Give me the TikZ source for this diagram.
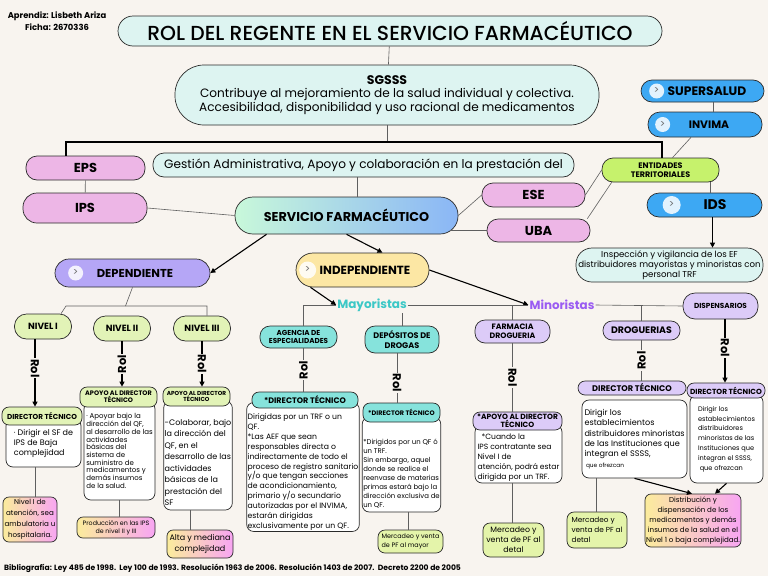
\documentclass[tikz,border=0pt]{standalone}
\usepackage{fontspec}
\setmainfont{Poppins}
\IfFontExistsTF{Poppins Medium}{\newfontfamily\titlef{Poppins Medium}}{\newcommand\titlef{\bfseries}}
\usepackage{tikz}
\usetikzlibrary{arrows.meta,positioning,calc}
\definecolor{bg}{HTML}{F8F4EF}
\definecolor{ink}{HTML}{2A2A2A}
\definecolor{aqua}{HTML}{DDF4F1}
\definecolor{rosa}{HTML}{EDB6E6}
\definecolor{lima}{HTML}{C6F26C}
\definecolor{azul}{HTML}{3DA8F3}
\definecolor{lila}{HTML}{B5A6F6}
\definecolor{amar}{HTML}{FCE7A4}
\definecolor{verde}{HTML}{E2F3B7}
\definecolor{turq}{HTML}{86E3DC}
\definecolor{lilac}{HTML}{DCCBF8}
\definecolor{cmerc}{HTML}{E4F4AA}
\definecolor{gamar}{HTML}{FBEC9C}
\definecolor{gpink}{HTML}{F8A5F3}
\definecolor{menta}{HTML}{C8F8DA}
\definecolor{cielo}{HTML}{8AB6F6}
\definecolor{maytx}{HTML}{3CC8C6}
\definecolor{mintx}{HTML}{9A5CF2}
\newcommand\fsz[2]{\fontsize{#1}{#2}\selectfont}
\newcommand\topgap[1]{\rule{0pt}{#1}}
\tikzset{
  >={Triangle[length=5pt,width=5pt]},
  box/.style={draw=ink,line width=0.7pt,rounded corners=#1,align=center,inner sep=1pt},
  box/.default=8pt,
  aq/.style={box=#1,fill=aqua},
  aq/.default=10pt,
  pk/.style={box=11pt,fill=rosa,font=\bfseries\fsz{13}{15}},
  bl/.style={box=11pt,fill=azul,font=\bfseries\fsz{12.3}{14}},
  chev/.style={circle,fill=white,fill opacity=0.85,text opacity=1,inner sep=0pt,minimum size=15pt,text=ink!70,font=\fsz{10}{10}},
  lvl/.style={box=12pt,fill=verde,minimum width=57pt,minimum height=25pt,font=\bfseries\fsz{9}{10}},
  hd/.style={box=7pt},
  body/.style={box=7pt,fill=white,align=left},
  grad/.style={box=6pt,left color=gamar,right color=gpink},
  merc/.style={box=7pt,fill=cmerc},
  rol/.style={fill=bg,inner sep=1pt,font=\bfseries\fsz{11.5}{12}},
  lk/.style={draw=ink!75,line width=0.6pt},
  ln/.style={draw=black,line width=1.1pt},
  arr/.style={->,ln},
}
\begin{document}
\begin{tikzpicture}[x=1pt,y=-1pt]
\fill[bg] (0,0) rectangle (768,576);
\node[align=center,font=\bfseries\fsz{8.4}{11.7}] (autor) at (57,21) {Aprendiz: Lisbeth Ariza\\Ficha: 2670336};
\node[aq=15pt,minimum width=544pt,minimum height=30pt,font=\titlef\fsz{20.3}{22}] (title) at (390,31) {ROL DEL REGENTE EN EL SERVICIO FARMACÉUTICO};
\node[aq=29pt,minimum width=424pt,minimum height=60pt,font=\fsz{12.1}{13.5}] (sgsss) at (387,95) {{\bfseries\fsz{12.5}{14}SGSSS}\\Contribuye al mejoramiento de la salud individual y colectiva.\\Accesibilidad, disponibilidad y uso racional de medicamentos};
\node[aq=11pt,minimum width=421pt,minimum height=24pt,font=\fsz{12.1}{14}] (gest) at (363.5,165) {Gestión Administrativa, Apoyo y colaboración en la prestación del};
\node[pk,minimum width=119pt,minimum height=24pt] (eps) at (85.5,168) {EPS};
\node[pk,box=14pt,minimum width=124pt,minimum height=30pt] (ips) at (85,208) {IPS};
\node[pk,minimum width=103pt,minimum height=24pt] (ese) at (533.5,195) {ESE};
\node[pk,minimum width=103pt,minimum height=23pt] (uba) at (538.5,230.5) {UBA};
\node[box=18pt,left color=menta,right color=cielo,minimum width=223pt,minimum height=37pt,font=\bfseries\fsz{12.8}{14}] (sf) at (346.5,215.5) {SERVICIO FARMACÉUTICO};
\node[box=11pt,fill=lima,minimum width=117pt,minimum height=24pt,font=\bfseries\fsz{8}{9.5}] (ent) at (660.5,170) {ENTIDADES\\TERRITORIALES};
\node[bl,minimum width=123pt,minimum height=22pt] (sup) at (702.5,91) {\hspace*{9pt}SUPERSALUD};
\node[bl,box=12pt,minimum width=114pt,minimum height=25pt,font=\bfseries\fsz{10.8}{13}] (inv) at (705,124.5) {\hspace*{8pt}INVIMA};
\node[bl,box=12pt,minimum width=115pt,minimum height=24pt,font=\bfseries\fsz{14}{15}] (ids) at (704.5,205) {\hspace*{21pt}IDS};
\node[aq=16pt,minimum width=187pt,minimum height=34pt,font=\fsz{8.6}{9.8}] (insp) at (669.5,265) {Inspección y vigilancia de los EF\\distribuidores mayoristas y minoristas con\\personal TRF};
\node[box=14pt,fill=lila,minimum width=155pt,minimum height=28pt,font=\bfseries\fsz{11.5}{13}] (dep) at (132.5,273) {\hspace*{5pt}DEPENDIENTE};
\node[box=17pt,fill=amar,minimum width=133pt,minimum height=34pt,font=\bfseries\fsz{11.8}{13}] (ind) at (362.5,270) {\hspace*{5pt}INDEPENDIENTE};
\node[chev] (supc) at ([xshift=16pt]sup.west) {>};
\node[chev] (invc) at ([xshift=15pt]inv.west) {>};
\node[chev,minimum size=18pt] (idsc) at ([xshift=25pt]ids.west) {>};
\node[chev] (depc) at ([xshift=21pt]dep.west) {>};
\node[chev,minimum size=17pt] (indc) at ([xshift=12pt]ind.west) {>};
\node[inner sep=1pt,text=maytx,font=\bfseries\fsz{12}{12}] (may) at (372,305) {Mayoristas};
\node[inner sep=1pt,text=mintx,font=\bfseries\fsz{11.9}{12}] (min) at (562,305) {Minoristas};
\node[lvl] (n1) at (43,326.5) {NIVEL I};
\node[lvl] (n2) at (122,328.5) {NIVEL II};
\node[lvl] (n3) at (202,328.5) {NIVEL III};
\node[body,minimum width=75pt,minimum height=48pt,font=\fsz{8}{10}] (dt1b) at (43.5,443) {· Dirigir el SF de\\IPS de Baja\\complejidad};
\node[hd,fill=verde,minimum width=80pt,minimum height=18pt,font=\bfseries\fsz{7.2}{8}] (dt1h) at (42,416) {DIRECTOR TÉCNICO};
\node[grad,minimum width=54pt,minimum height=45pt,font=\fsz{7.1}{11}] (niv1) at (30,519.5) {Nivel I de\\atención, sea\\ambulatoria u\\hospitalaria.};
\node[body,minimum width=71pt,minimum height=98pt,font=\fsz{7}{7.7}] (ap2b) at (119.5,451) {· Apoyar bajo la\\dirección del QF,\\al desarrollo de las\\actividades\\básicas del\\sistema de\\suministro de\\medicamentos y\\demás insumos\\de la salud.};
\node[hd,fill=verde,minimum width=77pt,minimum height=20pt,font=\bfseries\fsz{6.5}{7.3}] (ap2h) at (118.5,397) {APOYO AL DIRECTOR\\TÉCNICO};
\node[grad,minimum width=78pt,minimum height=21pt,font=\fsz{6.3}{8}] (prod) at (116,527.5) {Producción en las IPS\\de nivel II y III};
\node[body,minimum width=64pt,minimum height=109pt,font=\fsz{8}{11.5}] (ap3b) at (198,455.5) {\topgap{20pt}-Colaborar, bajo\\la dirección del\\QF, en el\\desarrollo de las\\actividades\\básicas de la\\prestación del\\SF};
\node[hd,fill=verde,minimum width=67pt,minimum height=19pt,font=\bfseries\fsz{5.8}{6.8}] (ap3h) at (196.5,396.5) {APOYO AL DIRECTOR\\TÉCNICO};
\node[grad,minimum width=66pt,minimum height=28pt,font=\fsz{8}{11}] (alta) at (200,544) {Alta y mediana\\complejidad};
\node[box=10pt,fill=turq,minimum width=77pt,minimum height=22pt,font=\bfseries\fsz{7.2}{8.8}] (age) at (298.5,337) {AGENCIA DE\\ESPECIALIDADES};
\node[body,minimum width=112pt,minimum height=126pt,font=\fsz{7.7}{9.9}] (dt4b) at (303,467) {\topgap{16pt}Dirigidas por un TRF o un\\QF.\\*Las AEF que sean\\responsables directa o\\indirectamente de todo el\\proceso de registro sanitario\\y/o que tengan secciones\\de acondicionamiento,\\primario y/o secundario\\autorizadas por el INVIMA,\\estarán dirigidas\\exclusivamente por un QF.};
\node[hd,fill=turq,minimum width=106pt,minimum height=16pt,font=\bfseries\fsz{8}{9}] (dt4h) at (305,400) {*DIRECTOR TÉCNICO};
\node[box=10pt,fill=turq,minimum width=74pt,minimum height=27pt,font=\bfseries\fsz{8.1}{10.5}] (depo) at (402,339.5) {DEPÓSITOS DE\\DROGAS};
\node[body,minimum width=73pt,minimum height=95pt,font=\fsz{6.9}{9}] (dt5b) at (401.5,464.5) {\topgap{24pt}*Dirigidos por un QF ó\\un TRF.\\Sin embargo, aquel\\donde se realice el\\reenvase de materias\\primas estará bajo la\\dirección exclusiva de\\un QF.};
\node[hd,fill=turq,minimum width=77pt,minimum height=19pt,font=\bfseries\fsz{6.5}{7.5}] (dt5h) at (401.5,412.5) {*DIRECTOR TÉCNICO};
\node[merc,align=left,minimum width=65pt,minimum height=23pt,font=\fsz{6.4}{9}] (mer5) at (410.5,541.5) {Mercadeo y venta\\de PF al mayor};
\node[box=10pt,fill=lilac,minimum width=75pt,minimum height=23pt,font=\bfseries\fsz{7.8}{9.2}] (far) at (512.5,331.5) {FARMACIA\\DROGUERIA};
\node[body,minimum width=87pt,minimum height=58pt,font=\fsz{7.6}{10}] (ap6b) at (518.5,454) {\topgap{13pt}\hspace*{4pt}*Cuando la\\IPS contratante sea\\Nivel I de\\atención, podrá estar\\dirigida por un TRF.};
\node[hd,fill=lilac,minimum width=89pt,minimum height=18pt,font=\bfseries\fsz{7.5}{8.3}] (ap6h) at (517.5,421) {*APOYO AL DIRECTOR\\TÉCNICO};
\node[merc,minimum width=61pt,minimum height=34pt,font=\fsz{7.8}{10}] (mer6) at (513.5,540) {Mercadeo y\\venta de PF al\\detal};
\node[box=9pt,fill=lilac,minimum width=77pt,minimum height=19pt,font=\bfseries\fsz{9.4}{10}] (drog) at (641.5,330.5) {DROGUERIAS};
\node[body,minimum width=105pt,minimum height=78pt,font=\fsz{8.1}{10.4}] (dt7b) at (634.5,439) {Dirigir los\\establecimientos\\distribuidores minoristas\\de las Instituciones que\\integran el SSSS,\\{\fsz{5.8}{10.4}\ que ofrezcan}};
\node[hd,fill=lilac,minimum width=108pt,minimum height=14pt,font=\bfseries\fsz{8.2}{9}] (dt7h) at (632,388) {DIRECTOR TÉCNICO};
\node[merc,align=left,minimum width=60pt,minimum height=36pt,font=\fsz{7.3}{10}] (mer7) at (597,530) {Mercadeo y\\venta de PF al\\detal};
\node[box=12pt,fill=lilac,minimum width=75pt,minimum height=26pt,font=\bfseries\fsz{7.3}{8}] (disp) at (720.5,306) {DISPENSARIOS};
\node[body,minimum width=73pt,minimum height=88pt,font=\fsz{6.6}{9.8}] (dt8b) at (726.5,439) {Dirigir los\\establecimientos\\distribuidores\\minoristas de las\\Instituciones que\\integran el SSSS,\\\ que ofrezcan};
\node[hd,fill=lilac,minimum width=78pt,minimum height=15pt,font=\bfseries\fsz{7.4}{8}] (dt8h) at (726,390.5) {DIRECTOR TÉCNICO};
\node[grad,minimum width=94pt,minimum height=53pt,font=\fsz{7.1}{10}] (dist) at (693,520.5) {Distribución y\\dispensación de los\\medicamentos y demás\\insumos de la salud en el\\Nivel 1 o baja complejidad.};
\node[anchor=west,inner sep=0pt,font=\bfseries\fsz{7.6}{8}] (biblio) at (4,568) {Bibliografía: Ley 485 de 1998.\ \ Ley 100 de 1993. Resolución 1963 de 2006. Resolución 1403 de 2007.\ \ Decreto 2200 de 2005};
\coordinate (barL) at (66,142);
\coordinate (barR) at (662,142);
\coordinate (lvlL) at (66,306);
\coordinate (lvlR) at (207,306);
\draw[lk] (sgsss) -- (title);
\draw[lk] (sgsss.south) -- (sgsss.south |- barL);
\draw[ln] (eps.north -| barL) -- (barL) -- (barR) -- (barR |- ent.north);
\draw[lk] (eps) -- (ips);
\draw[lk] (ips.east) -- (sf.west);
\draw[lk,line width=0.9pt] ([xshift=-6pt]gest.south) -- ([xshift=-6pt]gest.south |- sf.north);
\draw[lk] (sf.east) -- (ese.west);
\draw[lk,line width=0.9pt] (uba.west) -- ([xshift=-8pt]sf.east |- uba.west);
\draw[lk] (ese.east) -- (ent.west);
\draw[lk] ([xshift=-3pt]uba.north east) -- ([xshift=10pt]ent.south west);
\draw[lk] ([xshift=8pt]inv.north) -- ([xshift=8pt]inv.north |- sup.south);
\draw[lk] ([xshift=-14pt]inv.south) -- ([xshift=12pt]ent.north);
\draw[lk] ([xshift=50pt]ent.south) -- ([xshift=50pt]ent.south |- ids.north);
\draw[arr] ([xshift=8pt]ids.south) -- ([xshift=8pt]ids.south |- insp.north);
\draw[arr] ([xshift=-80pt]sf.south) -- (dep.east);
\draw[arr] (sf.south) -- ([xshift=20pt]ind.north);
\draw[lk] (dep.south) -- ([xshift=-7pt]dep.south |- lvlL);
\draw[lk] ([xshift=18pt]n1.north) -- (lvlL) -- (lvlR) -- (lvlR |- n3.north);
\draw[arr] ([xshift=-52pt]ind.south) -- (may.west);
\draw[arr] (ind.east) -- (min.west);
\draw[lk] ([xshift=5pt]age.north) |- (may.west);
\draw[lk] (may.east) -- (min.west);
\draw[lk] (depo.north) -- (depo.north |- may.south);
\draw[lk] (far.north) -- (far.north |- may.east);
\draw[lk] (min.east) -- (disp.west);
\draw[lk] (drog.north) -- (drog.north |- min.east);
\draw[arr] ([xshift=-8pt]n1.south) -- node[rol,rotate=-90,pos=0.43] (rol1) {Rol} ([xshift=-8pt]n1.south |- dt1h.north);
\draw[arr] (n2.south) -- node[rol,rotate=90] (rol2) {Rol} (n2.south |- ap2h.north);
\draw[arr] (n3.south) -- node[rol,rotate=-90] (rol3) {Rol} (n3.south |- ap3h.north);
\draw[lk] ([xshift=5pt]age.south) -- node[rol,rotate=90] (rol4) {Rol} ([xshift=5pt]age.south |- dt4h.north);
\draw[lk] ([xshift=-5pt]depo.south) -- node[rol,rotate=-90,pos=0.6] (rol5) {Rol} ([xshift=-5pt]depo.south |- dt5h.north);
\draw[lk] (far.south) -- node[rol,rotate=-90] (rol6) {Rol} (far.south |- ap6h.north);
\draw[lk] (drog.south) -- node[rol,rotate=90] (rol7) {Rol} (drog.south |- dt7h.north);
\draw[arr] ([xshift=4.5pt]disp.south) -- node[rol,rotate=-90,pos=0.45] (rol8) {Rol} ([xshift=4.5pt]disp.south |- dt8h.north);
\draw[lk] ([xshift=-8pt]dt1b.south) -- ([xshift=-8pt]dt1b.south |- niv1.north);
\draw[lk] (ap2b.south) -- (ap2b.south |- prod.north);
\draw[lk] ([xshift=-8pt]ap3b.south) -- ([xshift=-8pt]ap3b.south |- alta.north);
\draw[lk] ([xshift=6.5pt]dt5b.south) -- ([xshift=6.5pt]dt5b.south |- mer5.north);
\draw[lk] ([xshift=-6pt]ap6b.south) -- ([xshift=-6pt]ap6b.south |- mer6.north);
\draw[lk] ([xshift=-38.5pt]dt7b.south) -- ([xshift=-38.5pt]dt7b.south |- mer7.north);
\draw[arr] (dt7b.south) -- ([xshift=-1pt]dist.north);
\draw[arr] (dt8b.south) -- ([xshift=22pt]dist.north);
\end{tikzpicture}
\end{document}
